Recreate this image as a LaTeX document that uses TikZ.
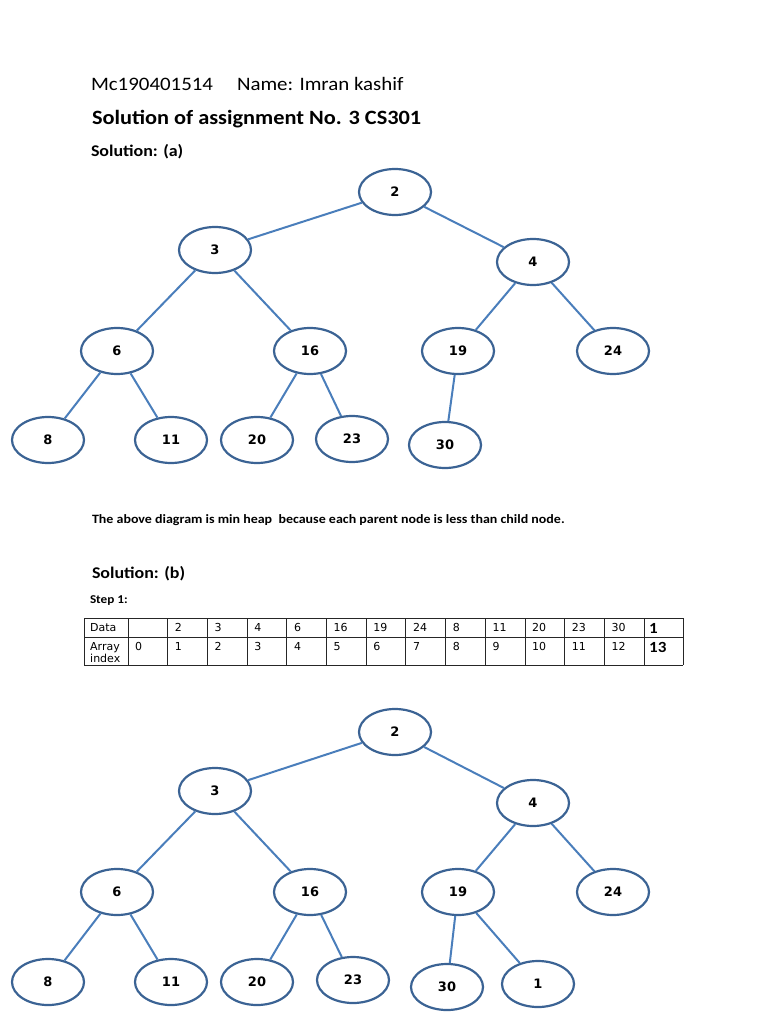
\documentclass[tikz,border=0pt]{standalone}
\usepackage{fontspec}
\setmainfont{Carlito}[FakeStretch=1.1]
\newfontfamily\verd{DejaVu Sans}
\usetikzlibrary{shapes.geometric}
\definecolor{ringblue}{HTML}{3B6394}
\definecolor{edgeblue}{HTML}{4A7EBB}
\tikzset{
  heapnode/.style={ellipse, draw=ringblue, line width=2.2pt, minimum width=72pt, minimum height=46pt, inner sep=0pt, font=\verd\bfseries\fontsize{13}{14}\selectfont},
  heapedge/.style={draw=edgeblue, line width=2pt},
  plaintext/.style={anchor=base west, inner sep=0pt, outer sep=0pt},
  cell/.style={anchor=base west, inner sep=0pt, font=\verd\fontsize{11}{12}\selectfont},
  bigcell/.style={anchor=base west, inner sep=0pt, font=\bfseries\fontsize{15.5}{16}\selectfont},
  grid/.style={draw=black!85, line width=0.9pt}
}
\begin{document}
\begin{tikzpicture}[x=1pt,y=-1pt]
\useasboundingbox (0,0) rectangle (768,1024);
% header texts
\node[plaintext, font=\fontsize{19}{22}\selectfont] (id) at (91,91) {Mc190401514};
\node[plaintext, font=\fontsize{19}{22}\selectfont] (nm) at (237,91) {Name: Imran kashif};
\node[plaintext, font=\bfseries\fontsize{20.3}{24}\selectfont] (ttl) at (92,125) {Solution of assignment No. 3 CS301};
\node[plaintext, font=\bfseries\fontsize{16.3}{20}\selectfont] (sa) at (91,157) {Solution: (a)};
\node[plaintext, font=\bfseries\fontsize{12.7}{14}\selectfont] (note) at (92,523) {The above diagram is min heap~ because each parent node is less than child node.};
\node[plaintext, font=\bfseries\fontsize{16.3}{20}\selectfont] (sb) at (92,578) {Solution: (b)};
\node[plaintext, font=\bfseries\fontsize{12}{14}\selectfont] (st) at (90,603) {Step 1:};

% tree (a)
\node[heapnode] (a2) at (395,192) {2};
\node[heapnode] (a3) at (215,250) {3};
\node[heapnode] (a4) at (533,262) {4};
\node[heapnode] (a6) at (117,351) {6};
\node[heapnode] (a16) at (310,351) {16};
\node[heapnode] (a19) at (458,351) {19};
\node[heapnode] (a24) at (613,351) {24};
\node[heapnode] (a8) at (48,440) {8};
\node[heapnode] (a11) at (171,440) {11};
\node[heapnode] (a20) at (257,440) {20};
\node[heapnode] (a23) at (352,439) {23};
\node[heapnode] (a30) at (445,445) {30};
\foreach \p/\c in {a2/a3,a2/a4,a3/a6,a3/a16,a4/a19,a4/a24,a6/a8,a6/a11,a16/a20,a16/a23,a19/a30}
  \path[heapedge] (\p) -- (\c);

% table
\foreach \y in {618,637.5,665} \draw[grid] (84,\y) -- (683,\y);
\draw[grid] (84,618) -- (84,665);
\foreach \k in {0,...,13} \draw[grid] ({128+39.7*\k},618) -- ({128+39.7*\k},665);
\draw[grid] (683,618) -- (683,665);
\node[cell] (hd) at (90,631) {Data};
\node[cell] (hi1) at (90,650) {Array};
\node[cell] (hi2) at (90,662.5) {index};
\foreach \v [count=\i from 0] in {,2,3,4,6,16,19,24,8,11,20,23,30}
  \node[cell] (d\i) at ({135+39.7*\i},631) {\v};
\foreach \v [count=\i from 0] in {0,1,2,3,4,5,6,7,8,9,10,11,12}
  \node[cell] (x\i) at ({135+39.7*\i},650) {\v};
\node[bigcell] (d13) at (649,633.5) {1};
\node[bigcell] (x13) at (649,652.5) {13};

% tree (b)
\node[heapnode] (b2) at (395,732) {2};
\node[heapnode] (b3) at (215,791) {3};
\node[heapnode] (b4) at (533,803) {4};
\node[heapnode] (b6) at (117,892) {6};
\node[heapnode] (b16) at (310,892) {16};
\node[heapnode] (b19) at (458,892) {19};
\node[heapnode] (b24) at (613,892) {24};
\node[heapnode] (b8) at (48,982) {8};
\node[heapnode] (b11) at (171,982) {11};
\node[heapnode] (b20) at (257,982) {20};
\node[heapnode] (b23) at (353,980) {23};
\node[heapnode] (b30) at (447,987) {30};
\node[heapnode] (b1) at (538,984) {1};
\foreach \p/\c in {b2/b3,b2/b4,b3/b6,b3/b16,b4/b19,b4/b24,b6/b8,b6/b11,b16/b20,b16/b23,b19/b30,b19/b1}
  \path[heapedge] (\p) -- (\c);
\end{tikzpicture}
\end{document}
